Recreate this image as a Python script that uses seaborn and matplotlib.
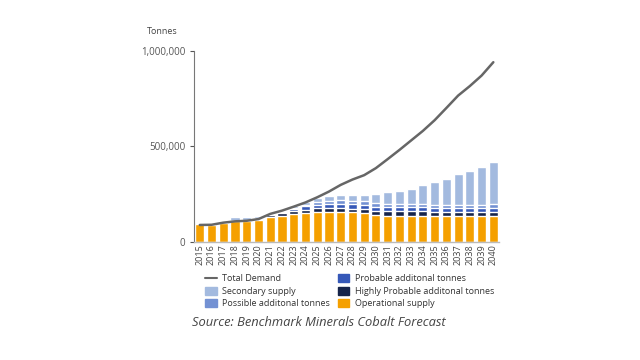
import matplotlib.pyplot as plt
import numpy as np
import pandas as pd
import seaborn as sns
from matplotlib.lines import Line2D
from matplotlib.patches import Patch
from matplotlib.ticker import FuncFormatter

years = [str(y) for y in range(2015, 2041)]

# thousand tonnes
operational = [92, 86, 97, 106, 110, 115, 127, 134, 144, 148, 154, 157, 157,
               153, 148, 137, 136, 136, 135, 135, 134, 134, 134, 134, 134, 134]
highly_probable = [0, 0, 0, 0, 0, 5, 12, 14, 16, 20, 20, 20, 18,
                   20, 22, 23, 23, 23, 23, 23, 23, 23, 23, 23, 23, 23]
probable = [0, 0, 0, 0, 0, 2, 4, 6, 10, 16, 20, 22, 22,
            22, 22, 22, 22, 22, 22, 21, 21, 21, 21, 21, 21, 21]
possible = [0, 0, 0, 0, 0, 0, 2, 4, 6, 10, 14, 16, 20,
            18, 18, 18, 16, 16, 16, 16, 16, 16, 16, 16, 16, 17]
secondary = [5, 2, 3, 22, 20, 10, 7, 8, 10, 12, 18, 22, 27,
             31, 34, 50, 61, 70, 80, 102, 117, 134, 162, 178, 195, 220]
total_demand = [87, 88, 99, 106, 109, 118, 145, 162, 183, 205, 232, 262, 297,
                325, 348, 385, 432, 480, 530, 580, 636, 700, 765, 815, 870, 940]

layers = [
    ("Operational supply", operational, "#f5a000"),
    ("Highly Probable additonal tonnes", highly_probable, "#16244a"),
    ("Probable additonal tonnes", probable, "#3558b8"),
    ("Possible additonal tonnes", possible, "#7391d3"),
    ("Secondary supply", secondary, "#a3badf"),
]

df = pd.DataFrame({"year": years})
running = np.zeros(len(years))
for name, vals, _ in layers:
    running = running + np.array(vals) * 1000
    df[name] = running

sns.set_style("white")
plt.rcParams["font.family"] = ["Open Sans", "DejaVu Sans"]

fig = plt.figure(figsize=(6.4, 3.6), dpi=100)
ax = fig.add_axes([0.303, 0.329, 0.477, 0.530])

# draw cumulative totals from the top layer down so they stack
for name, _, color in reversed(layers):
    sns.barplot(data=df, x="year", y=name, color=color, width=0.78,
                saturation=1, ax=ax)

sns.lineplot(x=np.arange(len(years)), y=np.array(total_demand) * 1000,
             color="#666666", linewidth=1.8, ax=ax)

ax.set_xlim(-0.5, len(years) - 0.5)
ax.set_ylim(0, 1000000)
ax.set_yticks([0, 500000, 1000000])
ax.yaxis.set_major_formatter(FuncFormatter(lambda v, p: f"{int(v):,}"))
ax.set_xlabel("")
ax.set_ylabel("")
ax.tick_params(axis="x", labelrotation=90, labelsize=6.5, colors="#444444",
               length=0, pad=2)
ax.tick_params(axis="y", labelsize=7, colors="#555555", length=3,
               width=0.8, left=True, pad=3)
for side in ["top", "right"]:
    ax.spines[side].set_visible(False)
ax.spines["left"].set_color("#777777")
ax.spines["left"].set_linewidth(0.8)
ax.spines["bottom"].set_color("#bbbbbb")
ax.spines["bottom"].set_linewidth(1.0)

fig.text(0.229, 0.905, "Tonnes", fontsize=6.5, color="#444444")

handles = [
    Line2D([0], [0], color="#666666", lw=1.5),
    Patch(color="#a3badf"),
    Patch(color="#7391d3"),
    Patch(color="#3558b8"),
    Patch(color="#16244a"),
    Patch(color="#f5a000"),
]
labels = ["Total Demand", "Secondary supply", "Possible additonal tonnes",
          "Probable additonal tonnes", "Highly Probable additonal tonnes",
          "Operational supply"]
fig.legend(handles, labels, ncol=2, frameon=False, fontsize=6.5,
           loc="upper left", bbox_to_anchor=(0.318, 0.243),
           borderaxespad=0, borderpad=0.2,
           handlelength=1.3, handleheight=1.0, handletextpad=0.6,
           columnspacing=0.8, labelspacing=0.35, labelcolor="#333333")

fig.text(0.30, 0.095, "Source: Benchmark Minerals Cobalt Forecast",
         fontsize=9.3, style="italic", color="#444444")

fig.savefig("out.png", dpi=100)
